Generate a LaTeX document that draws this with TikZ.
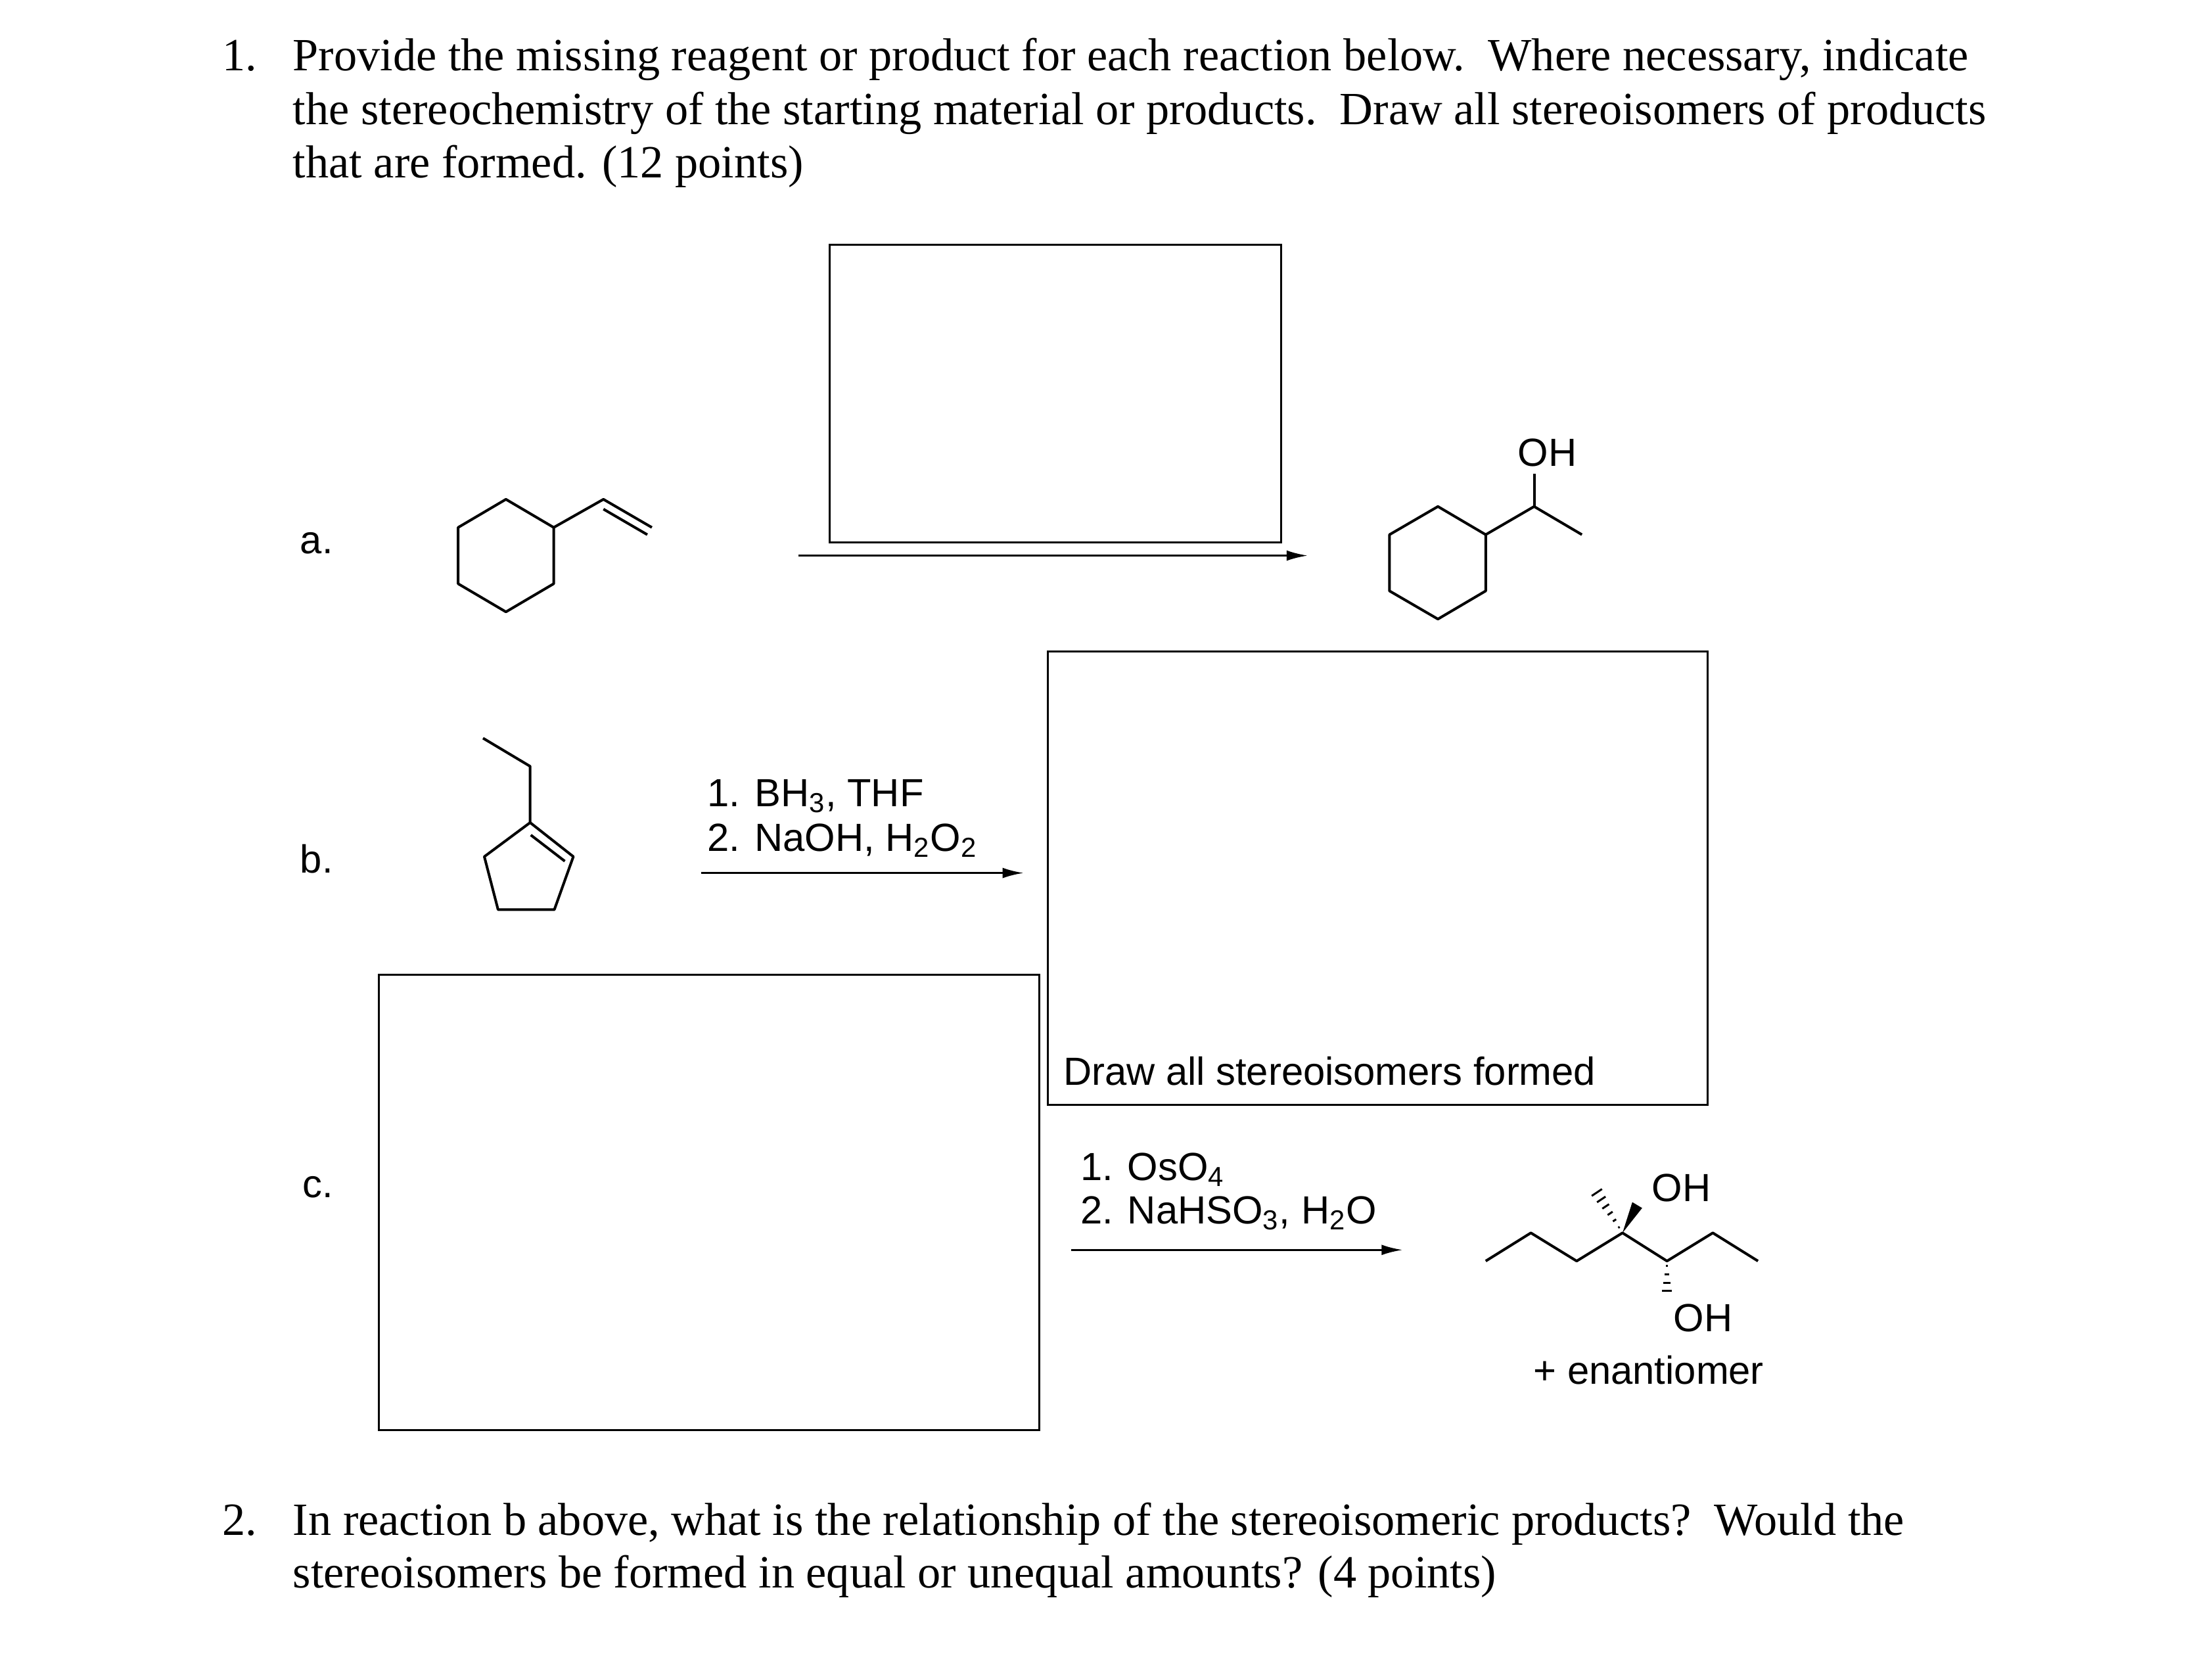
\documentclass[tikz,border=0pt]{standalone}
\usepackage{fontspec}
\setmainfont{Liberation Serif}
\setsansfont{Liberation Sans}
\usetikzlibrary{arrows.meta,calc}
\newcommand{\sbs}[1]{\textsubscript{#1}}
\begin{document}
\begin{tikzpicture}[x=0.0996mm,y=-0.0996mm,
  bond/.style={line width=0.4mm,line join=round},
  box/.style={draw,line width=0.3mm},
  arr/.style={line width=0.3mm,-{Latex[length=3.2mm,width=1.6mm]}},
  q/.style={anchor=base west,font=\fontsize{20}{24}\selectfont,inner sep=0},
  lab/.style={anchor=base west,font=\sffamily\fontsize{17}{20}\selectfont,inner sep=0},
  lbl/.style={font=\sffamily\fontsize{17}{20}\selectfont,inner sep=0}]
\useasboundingbox (0,0) rectangle (336.6mm,-253.3mm);
\fill[white] (0,0) rectangle (336.6mm,-253.3mm);
% question 1
\node[q] (q1n) at (339,108) {1.};
\node[q] (q1a) at (447,108) {Provide the missing reagent or product for each reaction below.\ \ Where necessary, indicate};
\node[q] (q1b) at (447,190) {the stereochemistry of the starting material or products.\ \ Draw all stereoisomers of products};
\node[q] (q1c) at (447,272) {that are formed. (12 points)};
% labels
\node[lab] (la) at (458,846) {a.};
\node[lab] (lb) at (458,1334) {b.};
\node[lab] (lc) at (462,1830) {c.};
% boxes
\draw[box] (1268,374) rectangle (1957,829);
\draw[box] (1601,996) rectangle (2609,1688);
\draw[box] (579,1490) rectangle (1588,2185);
\node[lab] (draw) at (1624,1658) {Draw all stereoisomers formed};
% arrows
\coordinate (a1) at (1220,849); \coordinate (a2) at (1998,849);
\draw[arr] (a1) -- (a2);
\coordinate (b1) at (1071,1334); \coordinate (b2) at (1564,1334);
\draw[arr] (b1) -- (b2);
\coordinate (c1) at (1637,1910); \coordinate (c2) at (2143,1910);
\draw[arr] (c1) -- (c2);
% reagents
\node[lab] (rb1) at (1080,1232) {1. BH\sbs{3}, THF};
\node[lab] (rb2) at (1080,1301) {2. NaOH, H\sbs{2}O\sbs{2}};
\node[lab] (rc1) at (1650,1804) {1. OsO\sbs{4}};
\node[lab] (rc2) at (1650,1870) {2. NaHSO\sbs{3}, H\sbs{2}O};
% molecule a (start)
\draw[bond] (700,806) -- (773,763) -- (846,806) -- (846,892) -- (773,935) -- (700,892) -- cycle;
\draw[bond] (846,806) -- (922,763) -- (996,806);
\draw[bond] (922,778) -- (989,817);
% molecule a (product)
\draw[bond] (2123,817) -- (2197,774) -- (2270,817) -- (2270,903) -- (2197,946) -- (2123,903) -- cycle;
\draw[bond] (2270,817) -- (2344,774) -- (2417,817);
\draw[bond] (2344,774) -- (2344,724);
\node[lbl] (oha) at (2364,692) {OH};
% molecule b
\draw[bond] (738,1128) -- (810,1171) -- (810,1257);
\draw[bond] (810,1257) -- (876,1309) -- (847,1390) -- (761,1390) -- (740,1309) -- cycle;
\draw[bond] (811,1276) -- (863,1316);
% molecule c
\begin{scope}[shift={(14,8)}]
\draw[bond] (2256,1919) -- (2325,1876) -- (2395,1919) -- (2465,1876) -- (2533,1919) -- (2603,1876) -- (2672,1919);
\fill (2465,1876) -- (2480,1829) -- (2495,1838) -- cycle;
\foreach \t in {0.12,0.27,0.42,0.57,0.72,0.87} {
  \draw[line width=0.3mm] ($(2465,1876)!\t!(2420,1805)+(\t*9,-\t*6)$) -- ($(2465,1876)!\t!(2420,1805)-(\t*9,-\t*6)$);
}
\foreach \t in {0.15,0.42,0.7,0.95} {
  \draw[line width=0.3mm] ($(2533,1919)!\t!(2533,1967)+(\t*8,0)$) -- ($(2533,1919)!\t!(2533,1967)-(\t*8,0)$);
}
\node[lbl] (ohc1) at (2555,1807) {OH};
\node[lbl] (ohc2) at (2588,2006) {OH};
\node[lbl] (enan) at (2505,2086) {+ enantiomer};
\end{scope}
% question 2
\node[q] (q2n) at (339,2346) {2.};
\node[q] (q2a) at (447,2346) {In reaction b above, what is the relationship of the stereoisomeric products?\ \ Would the};
\node[q] (q2b) at (447,2426) {stereoisomers be formed in equal or unequal amounts? (4 points)};
\end{tikzpicture}
\end{document}
